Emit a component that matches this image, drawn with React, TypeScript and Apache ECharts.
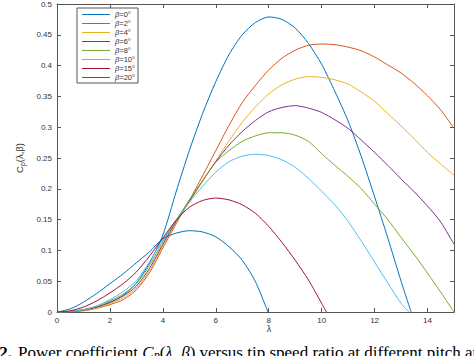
import React, { useEffect, useRef } from "react";
import * as echarts from "echarts";

// tip speed ratio samples (λ)
const lambda = [
  0, 0.5, 1, 1.5, 2, 2.5, 3, 3.5, 4, 4.5, 5, 5.5, 6, 6.5, 7, 7.5, 8, 8.5, 9, 9.5,
  10, 10.5, 11, 11.5, 12, 12.5, 13, 13.5, 14, 14.5, 15,
];

const betaLabels = ["0", "2", "4", "6", "8", "10", "15", "20"];

// Cp(λ,β)
const cpBeta0 = [
  0, 0.001, 0.004, 0.008, 0.015, 0.027, 0.047, 0.08, 0.125, 0.195, 0.262, 0.322,
  0.374, 0.418, 0.45, 0.47, 0.479, 0.475, 0.461, 0.436, 0.402, 0.358, 0.31,
  0.252, 0.187, 0.12, 0.05,
];
const cpBeta2 = [
  0, 0.0005, 0.002, 0.006, 0.012, 0.02, 0.036, 0.064, 0.104, 0.143, 0.181,
  0.221, 0.262, 0.303, 0.34, 0.368, 0.393, 0.412, 0.425, 0.433, 0.435, 0.434,
  0.43, 0.424, 0.414, 0.401, 0.388, 0.371, 0.351, 0.328, 0.298,
];
const cpBeta4 = [
  0, 0.0006, 0.0025, 0.007, 0.014, 0.023, 0.039, 0.067, 0.107, 0.145, 0.179,
  0.212, 0.245, 0.278, 0.308, 0.333, 0.354, 0.369, 0.378, 0.382, 0.381, 0.377,
  0.37, 0.357, 0.342, 0.322, 0.302, 0.281, 0.259, 0.24, 0.222,
];
const cpBeta6 = [
  0, 0.0007, 0.003, 0.008, 0.016, 0.026, 0.042, 0.071, 0.11, 0.147, 0.18,
  0.213, 0.244, 0.271, 0.293, 0.311, 0.325, 0.332, 0.335, 0.331, 0.324, 0.312,
  0.298, 0.279, 0.259, 0.238, 0.216, 0.195, 0.172, 0.146, 0.11,
];
const cpBeta8 = [
  0, 0.0008, 0.0035, 0.009, 0.018, 0.029, 0.046, 0.076, 0.114, 0.149, 0.182,
  0.213, 0.243, 0.262, 0.277, 0.286, 0.291, 0.291, 0.287, 0.277, 0.257, 0.238,
  0.22, 0.2, 0.175, 0.15, 0.121, 0.093, 0.063, 0.032, 0,
];
const cpBeta10 = [
  0, 0.001, 0.004, 0.01, 0.02, 0.033, 0.051, 0.082, 0.117, 0.149, 0.178, 0.204,
  0.227, 0.244, 0.253, 0.256, 0.254, 0.247, 0.235, 0.217, 0.196, 0.174, 0.147,
  0.115, 0.081, 0.047, 0.014,
];
const cpBeta15 = [
  0, 0.002, 0.008, 0.018, 0.031, 0.046, 0.065, 0.091, 0.12, 0.149, 0.17,
  0.181, 0.185, 0.182, 0.174, 0.16, 0.139, 0.113, 0.084, 0.052, 0.014,
];
const cpBeta20 = [
  0, 0.005, 0.016, 0.03, 0.046, 0.062, 0.08, 0.098, 0.119, 0.128, 0.132, 0.13,
  0.122, 0.106, 0.084, 0.049,
];
// λ where a curve reaches Cp = 0 (null: stays above 0 up to λ = 15)
const zeroCrossing = [13.38, null, null, null, null, 13.3, 10.18, 7.97];

const curves = [cpBeta0, cpBeta2, cpBeta4, cpBeta6, cpBeta8, cpBeta10, cpBeta15, cpBeta20];
const colors = ["#0072BD", "#D95319", "#EDB120", "#7E2F8E", "#77AC30", "#4DBEEE", "#A2142F", "#0072BD"];

const xTicks = { min: 0, max: 15, interval: 2 };
const yTicks = { min: 0, max: 0.5, interval: 0.05 };

const FONT = "Liberation Sans, Arial, Helvetica, sans-serif";
const SERIF = "Liberation Serif, Times New Roman, serif";
const AXIS_COLOR = "#555555";
const TEXT_COLOR = "#333333";

export default function App() {
  const ref = useRef<HTMLDivElement>(null);

  useEffect(() => {
    if (!ref.current) return;
    const chart = echarts.init(ref.current, null, { renderer: "svg" });

    const names = betaLabels.map((b) => `β=${b}°`);
    const series = curves.map((cp, k) => {
      const data: number[][] = cp.map((v, i) => [lambda[i], v]);
      const z = zeroCrossing[k];
      if (z != null) data.push([z, 0]);
      return {
        name: names[k],
        type: "line",
        data,
        symbol: "none",
        showSymbol: false,
        smooth: 0.25,
        clip: true,
        lineStyle: { width: 1, color: colors[k] },
        itemStyle: { color: colors[k] },
      };
    });

    const axisLine = { show: true, onZero: false, lineStyle: { color: AXIS_COLOR, width: 1 } };
    const axisTick = { show: true, inside: true, length: 4, lineStyle: { color: AXIS_COLOR, width: 1 } };

    chart.setOption({
      animation: false,
      backgroundColor: "#ffffff",
      textStyle: { fontFamily: FONT },
      grid: { left: 57, right: 20, top: 2, bottom: 44, containLabel: false },
      xAxis: [
        {
          type: "value",
          ...xTicks,
          position: "bottom",
          axisLine,
          axisTick,
          splitLine: { show: false },
          axisLabel: { fontSize: 8, color: TEXT_COLOR, margin: 4, showMaxLabel: false, fontFamily: FONT },
        },
        {
          type: "value",
          ...xTicks,
          position: "top",
          axisLine,
          axisTick,
          splitLine: { show: false },
          axisLabel: { show: false },
        },
      ],
      yAxis: [
        {
          type: "value",
          ...yTicks,
          position: "left",
          axisLine,
          axisTick,
          splitLine: { show: false },
          axisLabel: { fontSize: 8, color: TEXT_COLOR, margin: 5, fontFamily: FONT },
          name: "C{sub|p}(λ,β)",
          nameLocation: "middle",
          nameRotate: 90,
          nameGap: 25,
          nameTextStyle: {
            fontSize: 9.5,
            color: TEXT_COLOR,
            fontFamily: FONT,
            lineHeight: 13,
            rich: {
              sub: { fontSize: 7, lineHeight: 7, verticalAlign: "bottom", color: TEXT_COLOR, fontFamily: FONT },
            },
          },
        },
        {
          type: "value",
          ...yTicks,
          position: "right",
          axisLine,
          axisTick,
          splitLine: { show: false },
          axisLabel: { show: false },
        },
      ],
      legend: {
        orient: "vertical",
        left: 77,
        top: 8,
        icon: "rect",
        itemWidth: 28,
        itemHeight: 1,
        itemGap: 0,
        padding: [2, 3, 1, 5],
        borderColor: AXIS_COLOR,
        borderWidth: 1,
        backgroundColor: "#ffffff",
        data: names,
        formatter: (n: string) => `{i|β}${n.slice(1)}`,
        textStyle: {
          fontSize: 7.5,
          lineHeight: 9,
          color: TEXT_COLOR,
          fontFamily: FONT,
          rich: { i: { fontStyle: "italic", fontSize: 7.5, lineHeight: 9, color: TEXT_COLOR, fontFamily: FONT } },
        },
      },
      graphic: [
        {
          type: "text",
          x: 269,
          y: 329,
          style: {
            text: "λ",
            fontSize: 9,
            fill: TEXT_COLOR,
            fontFamily: FONT,
            align: "center",
            verticalAlign: "middle",
          },
        },
        {
          type: "text",
          x: 12,
          y: 344,
          style: {
            text: "Fig. 2.",
            fontSize: 17,
            fontWeight: "bold",
            fill: "#000",
            fontFamily: SERIF,
            align: "right",
            verticalAlign: "top",
          },
        },
        {
          type: "text",
          x: 18,
          y: 344,
          style: {
            text: "Power coefficient {i|C}{s|p}({i|λ}, {i|β}) versus tip speed ratio at different pitch angles",
            fontSize: 17,
            fill: "#000",
            fontFamily: SERIF,
            align: "left",
            verticalAlign: "top",
            rich: {
              i: { fontStyle: "italic", fontSize: 17, fontFamily: SERIF, fill: "#000" },
              s: { fontSize: 12, fontStyle: "italic", fontFamily: SERIF, fill: "#000", verticalAlign: "bottom", lineHeight: 12 },
            },
          },
        },
      ],
      series,
    });

    return () => chart.dispose();
  }, []);

  return (
    <div
      ref={ref}
      style={{ position: "absolute", left: 0, top: 0, width: 474, height: 356 }}
    />
  );
}
